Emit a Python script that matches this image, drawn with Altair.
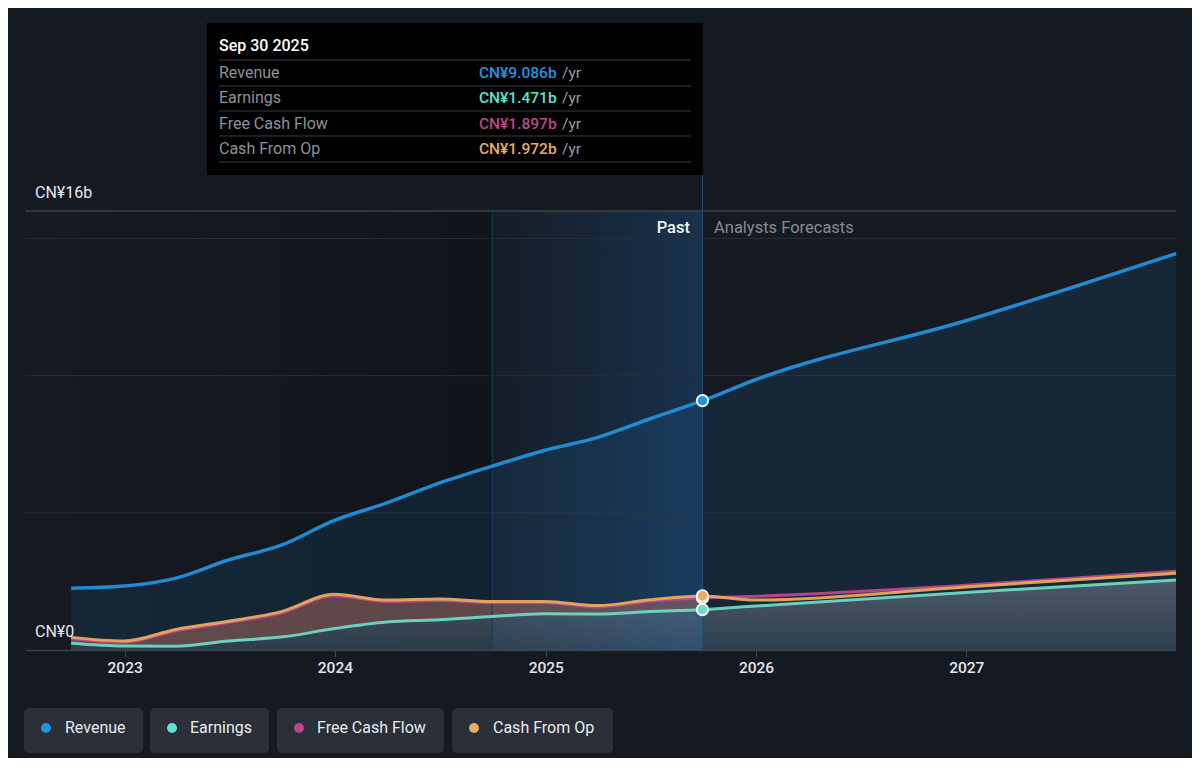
import altair as alt
import pandas as pd

# ---------------- data ----------------
past_dates = ["2022-09-30", "2022-12-31", "2023-03-31", "2023-06-30", "2023-09-30",
              "2023-12-31", "2024-03-31", "2024-06-30", "2024-09-30", "2024-12-31",
              "2025-03-31", "2025-06-30", "2025-09-30"]
fc_dates = ["2025-09-30", "2025-12-31", "2026-12-31", "2027-12-31"]

revenue_past = [2.25, 2.33, 2.62, 3.28, 3.82, 4.72, 5.36, 6.08, 6.70, 7.28, 7.74, 8.42, 9.086]
earnings_past = [0.25, 0.15, 0.14, 0.33, 0.47, 0.78, 1.02, 1.10, 1.22, 1.32, 1.31, 1.40, 1.471]
fcf_past = [0.42, 0.28, 0.70, 1.00, 1.35, 1.98, 1.77, 1.80, 1.72, 1.72, 1.57, 1.78, 1.897]
cfo_past = [0.46, 0.33, 0.75, 1.05, 1.40, 2.03, 1.82, 1.86, 1.77, 1.77, 1.62, 1.83, 1.972]

revenue_fc = [9.086, 9.85, 12.0, 14.45]
earnings_fc = [1.471, 1.60, 2.10, 2.55]
fcf_fc = [1.897, 1.96, 2.36, 2.87]
cfo_fc = [1.972, 1.82, 2.30, 2.80]

series_names = ["Revenue", "Earnings", "Free Cash Flow", "Cash From Op"]
series_colors = ["#2394e0", "#6fdcc4", "#c2478c", "#e9ad5d"]
legend_dot_colors = ["#2394e0", "#5fe3cc", "#bf4788", "#e8ad5f"]
tooltip_date = "Sep 30 2025"
y_labels = ["CN¥16b", "CN¥0"]
years = [2023, 2024, 2025, 2026, 2027]

# ---------------- tables ----------------
def ts(d):
    return d + "T00:00:00"

past = {"Revenue": revenue_past, "Earnings": earnings_past,
        "Free Cash Flow": fcf_past, "Cash From Op": cfo_past}
fc = {"Revenue": revenue_fc, "Earnings": earnings_fc,
      "Free Cash Flow": fcf_fc, "Cash From Op": cfo_fc}

rows = []
for s in series_names:
    for d, v in zip(past_dates, past[s]):
        rows.append({"date": ts(d), "value": v, "series": s, "period": "past"})
    for d, v in zip(fc_dates[1:], fc[s][1:]):
        rows.append({"date": ts(d), "value": v, "series": s, "period": "forecast"})
df = pd.DataFrame(rows)

# wide table of the past period for the cash-flow bands (down to earnings)
wide_past = pd.DataFrame({"date": [ts(d) for d in past_dates],
                          "fcf": fcf_past, "cfo": cfo_past, "earn": earnings_past})

one = pd.DataFrame({"k": [0]})
FONT = "Roboto"

W, H = 1151, 439
xscale = alt.Scale(domain=[alt.DateTime(year=2022, month=7, date=12),
                           alt.DateTime(year=2027, month=12, date=31)])
xaxis = alt.Axis(values=[alt.DateTime(year=y, month=1, date=1) for y in years],
                 format="%Y", title=None, grid=False,
                 domainColor="#3a404a", domainWidth=1.5,
                 tickColor="#3f454f", tickSize=7, tickWidth=1,
                 labelColor="#e2e4e8", labelFontSize=15.5, labelFontWeight=500,
                 labelFont=FONT, labelPadding=3)
yscale = alt.Scale(domain=[0, 16], nice=False, zero=True)


def X(field):
    return alt.X(field, type="temporal", scale=xscale, axis=xaxis)


def Y(field="value"):
    return alt.Y(field, type="quantitative", scale=yscale, axis=None)


layers = []

# darkening to the left of the band
left_df = pd.DataFrame({"start": [ts("2022-07-12")], "end": [ts("2024-09-30")]})
layers.append(alt.Chart(left_df).mark_rect(
    color=alt.Gradient(gradient="linear", x1=0, x2=1, y1=0, y2=0,
                       stops=[alt.GradientStop(color="rgba(0,0,0,0)", offset=0),
                              alt.GradientStop(color="rgba(0,0,0,0.22)", offset=1)])
).encode(x=X("start"), x2="end", y=alt.value(0), y2=alt.value(H)))

# highlighted past-year band
band_df = pd.DataFrame({"start": [ts("2024-09-30")], "end": [ts("2025-09-30")]})
layers.append(alt.Chart(band_df).mark_rect(
    color=alt.Gradient(gradient="linear", x1=0, x2=1, y1=0, y2=0,
                       stops=[alt.GradientStop(color="rgba(30,120,200,0.03)", offset=0),
                              alt.GradientStop(color="rgba(30,120,200,0.25)", offset=1)])
).encode(x=X("start"), x2="end", y=alt.value(0), y2=alt.value(H)))

# gridlines
grid_df = pd.DataFrame({"value": [5, 10, 15]})
layers.append(alt.Chart(grid_df).mark_rule(color="#272e37", strokeWidth=1).encode(y=Y()))
top_df = pd.DataFrame({"value": [16]})
layers.append(alt.Chart(top_df).mark_rule(color="#3c434d", strokeWidth=1.5).encode(y=Y()))

# revenue area
layers.append(alt.Chart(df).transform_filter(alt.datum.series == "Revenue").mark_area(
    interpolate="monotone", color="#2394e0", opacity=0.11
).encode(x=X("date"), y=Y()))

# earnings area (grey gradient)
layers.append(alt.Chart(df).transform_filter(alt.datum.series == "Earnings").mark_area(
    interpolate="monotone",
    color=alt.Gradient(gradient="linear", x1=0, x2=0, y1=0, y2=1,
                       stops=[alt.GradientStop(color="rgba(200,205,215,0.30)", offset=0),
                              alt.GradientStop(color="rgba(200,205,215,0.14)", offset=1)])
).encode(x=X("date"), y=Y()))

# FCF / CFO bands down to earnings (past only)
for f, c in [("fcf", "#c2478c"), ("cfo", "#e9ad5d")]:
    layers.append(alt.Chart(wide_past).mark_area(
        interpolate="monotone", color=c, opacity=0.22
    ).encode(x=X("date"), y=Y(f), y2="earn"))

# vertical rules
vb_df = pd.DataFrame({"date": [ts("2024-09-30")]})
layers.append(alt.Chart(vb_df).mark_rule(color="#1d3a54", strokeWidth=1).encode(
    x=X("date"), y=alt.value(0), y2=alt.value(H)))
vp_df = pd.DataFrame({"date": [ts("2025-09-30")]})
layers.append(alt.Chart(vp_df).mark_rule(color="#24506f", strokeWidth=1).encode(
    x=X("date"), y=alt.value(-36), y2=alt.value(H)))

# lines
line_order = ["Revenue", "Earnings", "Free Cash Flow", "Cash From Op"]
widths = {"Revenue": 3.5, "Earnings": 3, "Free Cash Flow": 3, "Cash From Op": 3}
for s in line_order:
    c = series_colors[series_names.index(s)]
    layers.append(alt.Chart(df).transform_filter(alt.datum.series == s).mark_line(
        interpolate="monotone", color=c, strokeWidth=widths[s], opacity=0.92
    ).encode(x=X("date"), y=Y()))

# points at last reported date
pt = df[df["date"] == ts("2025-09-30")]
for s in ["Revenue", "Earnings", "Free Cash Flow", "Cash From Op"]:
    c = series_colors[series_names.index(s)]
    layers.append(alt.Chart(pt[pt["series"] == s]).mark_point(
        filled=True, fill=c, stroke="white", strokeWidth=1.8, size=130, opacity=1
    ).encode(x=X("date"), y=Y()))

# y labels
for lab, val in zip(y_labels, [16, 0]):
    layers.append(alt.Chart(pd.DataFrame({"value": [val], "t": [lab]})).mark_text(
        align="left", baseline="middle", dx=0, dy=-18, font=FONT, fontSize=16,
        color="#e6e8ec"
    ).encode(x=alt.value(10), y=Y(), text="t:N"))

# Past / Analysts Forecasts
layers.append(alt.Chart(one).mark_text(
    text="Past", align="right", baseline="middle", font=FONT, fontSize=16.5,
    fontWeight=500, color="#f0f2f4").encode(x=alt.value(665), y=alt.value(17)))
layers.append(alt.Chart(one).mark_text(
    text="Analysts Forecasts", align="left", baseline="middle", font=FONT,
    fontSize=16.5, color="#868c94").encode(x=alt.value(689), y=alt.value(17)))

# tooltip box
layers.append(alt.Chart(one).mark_rect(color="#000000").encode(
    x=alt.value(182), x2=alt.value(678), y=alt.value(-188), y2=alt.value(-36)))
layers.append(alt.Chart(one).mark_text(
    text=tooltip_date, align="left", baseline="middle", font=FONT, fontSize=16,
    fontWeight=500, color="#ffffff").encode(x=alt.value(194), y=alt.value(-165)))
for ysep in [-151, -125, -100, -75, -49]:
    layers.append(alt.Chart(one).mark_rule(color="#3a3d42", strokeWidth=1).encode(
        x=alt.value(194), x2=alt.value(666), y=alt.value(ysep)))
row_y = [-138, -113, -87, -62]
for i, s in enumerate(series_names):
    v = fc[s][0]
    layers.append(alt.Chart(one).mark_text(
        text=s, align="left", baseline="middle", font=FONT, fontSize=16,
        color="#8f9296").encode(x=alt.value(194), y=alt.value(row_y[i])))
    layers.append(alt.Chart(one).mark_text(
        text=f"CN¥{v:.3f}b", align="left", baseline="middle", font=FONT,
        fontSize=15.5, fontWeight=500, color=legend_dot_colors[i]
    ).encode(x=alt.value(454), y=alt.value(row_y[i])))
    layers.append(alt.Chart(one).mark_text(
        text="/yr", align="left", baseline="middle", font=FONT, fontSize=15.5,
        color="#9a9da2").encode(x=alt.value(537), y=alt.value(row_y[i])))

# legend
box_x = [(-1, 118), (125, 244), (252, 419), (427, 588)]
dot_x = [21, 147, 274, 449]
txt_x = [40, 165, 292, 468]
for i, s in enumerate(series_names):
    layers.append(alt.Chart(one).mark_rect(color="#2a2f38", cornerRadius=5).encode(
        x=alt.value(box_x[i][0]), x2=alt.value(box_x[i][1]),
        y=alt.value(497), y2=alt.value(542)))
    layers.append(alt.Chart(one).mark_point(
        filled=True, shape="circle", size=100, color=legend_dot_colors[i], opacity=1
    ).encode(x=alt.value(dot_x[i]), y=alt.value(517)))
    layers.append(alt.Chart(one).mark_text(
        text=s, align="left", baseline="middle", font=FONT, fontSize=16,
        color="#e8eaee").encode(x=alt.value(txt_x[i]), y=alt.value(517)))

chart = alt.layer(*layers).properties(
    width=W, height=H,
    autosize=alt.AutoSizeParams(type="none"),
    padding={"left": 17, "top": 203, "right": 16, "bottom": 108},
    background="#151a22",
).configure_view(stroke=None)

chart.save("out.html", embed_options={"renderer": "svg", "actions": False})
